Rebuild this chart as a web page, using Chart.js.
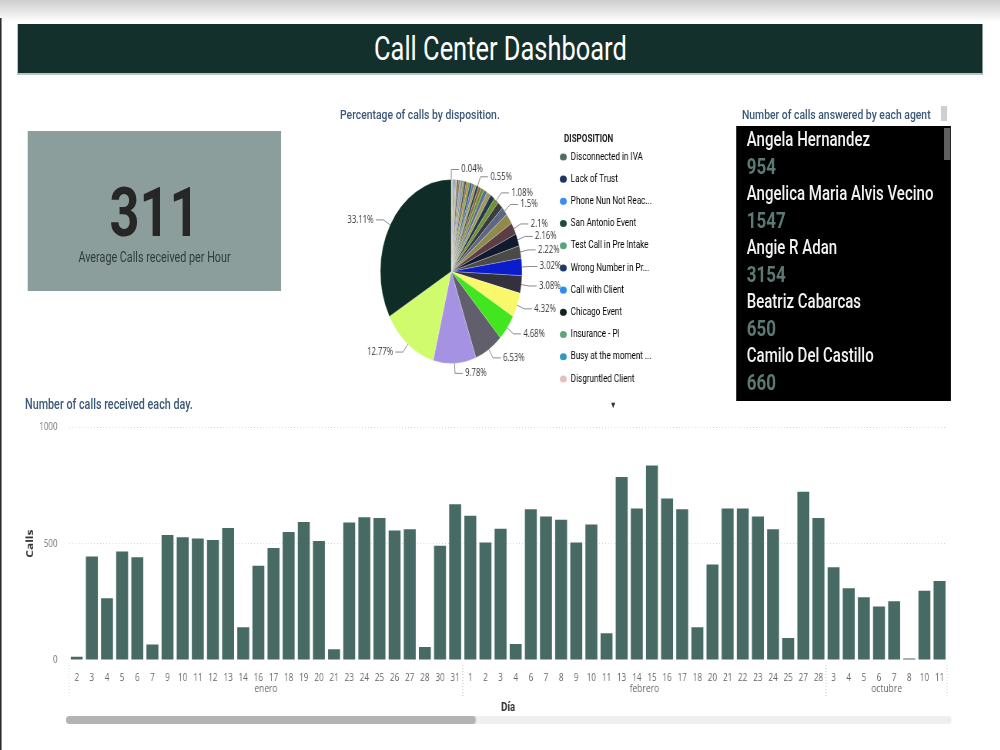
<!DOCTYPE html>
<html>
<head>
<meta charset="utf-8">
<script src="https://cdn.jsdelivr.net/npm/chart.js@4.4.1/dist/chart.umd.min.js"></script>
<style>
    html, body { margin: 0; padding: 0; width: 1000px; height: 750px; overflow: hidden; background: #fff; }
    /* the reference is squeezed horizontally, so everything is laid out wide and scaled down */
    #page { position: absolute; left: 0; top: 0; width: 1299px; height: 750px; transform: scaleX(0.77); transform-origin: 0 0; font-family: Roboto, "Open Sans", sans-serif; }
    .abs { position: absolute; }
    #topShade { left: 0; top: 0; width: 1299px; height: 22px; background: linear-gradient(#cdcdcd, #ffffff); }
    #leftEdge { left: 0; top: 18px; width: 2px; height: 732px; background: #2b2b2b; }
    #header { left: 23.4px; top: 24px; width: 1253px; height: 49px; background: #14302c; border-bottom: 2px solid #b9c5c3; color: #fff; font-size: 33px; line-height: 49px; text-align: center; }
    #kpi { left: 36.4px; top: 131px; width: 328.6px; height: 160px; background: #8b9e9b; color: #262626; text-align: center; }
    #kpiValue { left: 0; width: 100%; top: 42px; font-size: 68px; font-weight: 700; line-height: 80px; }
    #kpiLabel { left: 0; width: 100%; top: 117px; font-size: 14px; line-height: 18px; color: #2f3b3a; }
    .visualTitle { color: #3b5878; font-size: 13.5px; font-weight: 500; line-height: 16px; white-space: nowrap; }
    #legendTitle { left: 732.5px; top: 132px; font-size: 10.5px; font-weight: 700; color: #222; line-height: 14px; }
    #agentBox { left: 955.8px; top: 126px; width: 279.2px; height: 275px; background: #000; overflow: hidden; }
    #agentThumb { left: 270px; top: 2px; width: 8px; height: 32px; background: #5f5f5f; }
    .agentName { color: #f2f2f2; font-size: 19.5px; font-weight: 500; height: 27px; line-height: 27px; padding-left: 14px; white-space: nowrap; }
    .agentCalls { color: #5b7a74; font-size: 22px; font-weight: 700; height: 27px; line-height: 27px; padding-left: 14px; }
    #scrollTrack { left: 85.7px; top: 716px; width: 1150.6px; height: 8px; background: #efefef; border-radius: 4px; }
    #scrollThumb { left: 0; top: 0; width: 532.5px; height: 8px; background: #b3b3b3; border-radius: 4px; }
</style>
</head>
<body>
<div id="page">
    <div id="topShade" class="abs"></div>
    <div id="leftEdge" class="abs"></div>
    <div id="header" class="abs">Call Center Dashboard</div>

    <div id="kpi" class="abs">
        <div id="kpiValue" class="abs"></div>
        <div id="kpiLabel" class="abs">Average Calls received per Hour</div>
    </div>

    <div class="abs visualTitle" style="left: 441.6px; top: 106px;">Percentage of calls by disposition.</div>
    <div id="legendTitle" class="abs">DISPOSITION</div>
    <canvas id="pieChart" class="abs" width="429" height="290" style="left: 435px; top: 127px; width: 429px; height: 290px;"></canvas>
    <div class="abs" style="left: 792px; top: 400px; font-size: 9px; color: #333;">&#9660;</div>

    <div class="abs visualTitle" style="left: 963.6px; top: 106px;">Number of calls answered by each agent</div>
    <div class="abs" style="left: 1222px; top: 106px; width: 8px; height: 15px; background: #cfcfcf;"></div>
    <div id="agentBox" class="abs">
        <div id="agentThumb" class="abs"></div>
        <div id="agentList"></div>
    </div>

    <div class="abs visualTitle" style="left: 32.5px; top: 396px; font-size: 14px;">Number of calls received each day.</div>
    <canvas id="dailyChart" class="abs" width="1224" height="315" style="left: 23.4px; top: 406px; width: 1224px; height: 315px;"></canvas>
    <div id="scrollTrack" class="abs"><div id="scrollThumb" class="abs"></div></div>
</div>

<script>
const avgCallsPerHour = 311

const agentNames = ['Angela Hernandez', 'Angelica Maria Alvis Vecino', 'Angie R Adan', 'Beatriz Cabarcas', 'Camilo Del Castillo']
const agentCalls = [954, 1547, 3154, 650, 660]

// pie slices, clockwise from 12 o'clock (percent of calls)
const dispositionPct = [0.04, 0.05, 0.08, 0.1, 0.12, 0.15, 0.18, 0.2, 0.22, 0.25, 0.28, 0.3, 0.32, 0.35, 0.38, 0.4, 0.42,
    0.45, 0.48, 0.5, 0.52, 0.55, 0.62, 0.7, 0.8, 0.95, 1.05, 1.08, 1.3, 1.5, 1.89,
    2.1, 2.16, 2.22, 3.02, 3.08, 4.32, 4.68, 6.53, 9.78, 12.77, 33.11]
const labelledPct = [0.04, 0.55, 1.08, 1.5, 2.1, 2.16, 2.22, 3.02, 3.08, 4.32, 4.68, 6.53, 9.78, 12.77, 33.11]

const legendNames = ['Disconnected in IVA', 'Lack of Trust', 'Phone Nun Not Reac...', 'San Antonio Event',
    'Test Call in Pre Intake', 'Wrong Number in Pr...', 'Call with Client', 'Chicago Event', 'Insurance - PI',
    'Busy at the moment ...', 'Disgruntled Client']

const months = ['enero', 'febrero', 'octubre']
const eneroDays = [2, 3, 4, 5, 6, 7, 9, 10, 11, 12, 13, 14, 16, 17, 18, 19, 20, 21, 23, 24, 25, 26, 27, 28, 30, 31]
const eneroCalls = [14, 445, 265, 466, 442, 67, 537, 528, 522, 516, 567, 141, 405, 481, 550, 593, 511, 46, 591, 613, 610, 557, 562, 56, 491, 669]
const febreroDays = [1, 2, 3, 4, 6, 7, 8, 9, 10, 11, 13, 14, 15, 16, 17, 18, 20, 21, 22, 23, 24, 25, 27, 28]
const febreroCalls = [620, 505, 564, 69, 648, 617, 603, 505, 582, 115, 786, 651, 836, 694, 648, 141, 410, 651, 651, 617, 562, 95, 723, 610]
const octubreDays = [3, 4, 5, 6, 7, 8, 10, 11]
const octubreCalls = [399, 308, 270, 230, 252, 6, 298, 340]
const yTicks = [0, 500, 1000]

// ---- colours ----
const sliceColors = ['#e2e0d8', '#cfc6ae', '#b4bccb', '#9a9a9a', '#5573a6', '#b9ad63', '#2f4268', '#7a88aa', '#b49a73',
    '#a3a451', '#24324f', '#86643f', '#8a929c', '#5b7ca5', '#8e9642', '#2a3b5c', '#a5722f', '#7c9c35', '#2f5467',
    '#6473a3', '#9d9c55', '#2c3e55', '#8a6a3a', '#6b8f2f', '#596f94', '#a09a5a', '#233a4d', '#6e9234', '#3a3b40',
    '#5b6882', '#8f8a4c', '#5a3e44', '#111a2c', '#4b4a46', '#0b1ccc', '#34313f', '#f8f86a', '#41e61e', '#605f6b',
    '#a692e2', '#d0fb6c', '#102c26']
const legendColors = ['#4c6e64', '#1c3564', '#3a8ef0', '#1f4d3c', '#5ba37c', '#1d3a6e', '#2d8cf0', '#0f251f', '#5fa57b', '#3299c4', '#e3bfc0']
const barColor = '#476a65'

// ---- html parts ----
document.getElementById('kpiValue').textContent = avgCallsPerHour
const agentList = document.getElementById('agentList')
agentNames.forEach((name, i) => {
    const n = document.createElement('div')
    n.className = 'agentName'
    n.textContent = name
    const v = document.createElement('div')
    v.className = 'agentCalls'
    v.textContent = agentCalls[i]
    agentList.appendChild(n)
    agentList.appendChild(v)
})

// ---- pie chart ----
// percentage labels outside the pie with a bent leader line
const leaderLabels = {
    id: 'leaderLabels',
    afterDatasetsDraw(chart) {
        const ctx = chart.ctx
        const meta = chart.getDatasetMeta(0)
        ctx.save()
        ctx.font = '10px "Open Sans"'
        ctx.fillStyle = '#333'
        ctx.strokeStyle = '#8a8a8a'
        ctx.lineWidth = 1
        ctx.textBaseline = 'middle'
        meta.data.forEach((arc, i) => {
            const value = dispositionPct[i]
            if (!labelledPct.includes(value)) return
            const mid = (arc.startAngle + arc.endAngle) / 2
            const r = arc.outerRadius
            const cos = Math.cos(mid)
            const sin = Math.sin(mid)
            const x1 = arc.x + cos * (r + 10)
            const y1 = arc.y + sin * (r + 10)
            const dir = cos >= 0 ? 1 : -1
            const x2 = x1 + dir * 10
            ctx.beginPath()
            ctx.moveTo(arc.x + cos * r, arc.y + sin * r)
            ctx.lineTo(x1, y1)
            ctx.lineTo(x2, y1)
            ctx.stroke()
            ctx.textAlign = dir > 0 ? 'left' : 'right'
            ctx.fillText(value + '%', x2 + dir * 3, y1)
        })
        ctx.restore()
    }
}

new Chart(document.getElementById('pieChart'), {
    type: 'pie',
    data: {
        labels: dispositionPct.map(v => v + '%'),
        datasets: [{
            data: dispositionPct,
            backgroundColor: sliceColors,
            borderColor: 'rgba(255,255,255,0.5)',
            borderWidth: 0.5,
            radius: 92
        }]
    },
    plugins: [leaderLabels],
    options: {
        responsive: false,
        animation: false,
        layout: { padding: { left: 21.6, right: 7.6, top: 13, bottom: 14 } },
        plugins: {
            tooltip: { enabled: false },
            legend: {
                position: 'right',
                align: 'start',
                labels: {
                    usePointStyle: true,
                    pointStyleWidth: 9,
                    boxHeight: 5,
                    padding: 11.7,
                    color: '#444',
                    font: { family: 'Roboto', size: 10.5 },
                    generateLabels: () => legendNames.map((text, i) => ({
                        text,
                        fillStyle: legendColors[i],
                        strokeStyle: legendColors[i],
                        lineWidth: 0,
                        pointStyle: 'circle',
                        hidden: false,
                        index: i
                    }))
                }
            }
        }
    }
})

// ---- daily calls bar chart ----
const dayGroups = [eneroDays, febreroDays, octubreDays]
const dayLabels = [].concat(...dayGroups).map(String)
const dailyCalls = [].concat(eneroCalls, febreroCalls, octubreCalls)

// month names under the day labels, separated by dotted lines
const monthGroups = {
    id: 'monthGroups',
    afterDraw(chart) {
        const ctx = chart.ctx
        const x = chart.scales.x
        const step = x.getPixelForValue(1) - x.getPixelForValue(0)
        const top = chart.chartArea.bottom + 5
        ctx.save()
        ctx.strokeStyle = '#cfcfcf'
        ctx.setLineDash([1, 2])
        ctx.fillStyle = '#666'
        ctx.font = '11px "Open Sans"'
        ctx.textAlign = 'center'
        ctx.textBaseline = 'middle'
        let start = 0
        dayGroups.forEach((days, g) => {
            const left = x.getPixelForValue(start) - step / 2
            const right = x.getPixelForValue(start + days.length - 1) + step / 2
            ctx.beginPath()
            ctx.moveTo(left, top)
            ctx.lineTo(left, top + 33)
            ctx.moveTo(right, top)
            ctx.lineTo(right, top + 33)
            ctx.stroke()
            ctx.fillText(months[g], (left + right) / 2, top + 24)
            start += days.length
        })
        ctx.restore()
    }
}

new Chart(document.getElementById('dailyChart'), {
    type: 'bar',
    data: {
        labels: dayLabels,
        datasets: [{
            data: dailyCalls,
            backgroundColor: barColor,
            barPercentage: 0.79,
            categoryPercentage: 1
        }]
    },
    plugins: [monthGroups],
    options: {
        responsive: false,
        animation: false,
        layout: { padding: { left: 0, right: 17, top: 3, bottom: 6 } },
        plugins: { legend: { display: false }, tooltip: { enabled: false } },
        scales: {
            x: {
                grid: { display: false },
                border: { display: false },
                ticks: { autoSkip: false, maxRotation: 0, padding: 4, color: '#666', font: { family: 'Open Sans', size: 10.5 } },
                title: { display: true, text: 'Día', color: '#333', font: { family: 'Roboto', size: 12.5, weight: 'bold' }, padding: 0 },
                afterFit: scale => { scale.height = 55 }
            },
            y: {
                min: 0,
                max: 1000,
                afterBuildTicks: scale => { scale.ticks = yTicks.map(value => ({ value })) },
                ticks: { padding: 15, color: '#777', font: { family: 'Open Sans', size: 10.5 }, callback: value => String(value) },
                grid: { drawTicks: false, color: c => c.tick && c.tick.value === 0 ? 'rgba(0,0,0,0)' : '#d2d2d2' },
                border: { display: false, dash: [1, 3] },
                title: { display: true, text: 'Calls', color: '#333', font: { family: 'Open Sans', size: 12, weight: 'bold' }, padding: { top: 9, bottom: 0 } },
                afterFit: scale => { scale.width = 66.8 }
            }
        }
    }
})
</script>
</body>
</html>
